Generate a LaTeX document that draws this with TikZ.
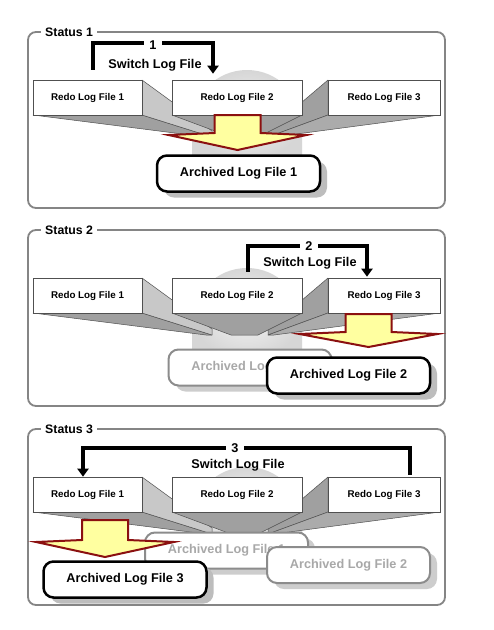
\documentclass[tikz,border=0pt]{standalone}
\usepackage{fontspec}
\setmainfont{Liberation Sans}
\usetikzlibrary{arrows.meta,shadows}
\definecolor{framegray}{HTML}{858585}
\definecolor{faceLight}{HTML}{C8C8C8}
\definecolor{faceDark}{HTML}{A0A0A0}
\definecolor{faceMid}{HTML}{ABABAB}
\definecolor{edgegray}{HTML}{505050}
\definecolor{arrowred}{HTML}{8B1010}
\definecolor{arrowyellow}{HTML}{FFFFA0}
\definecolor{fadetext}{HTML}{A8A8A8}
\definecolor{fadeedge}{HTML}{8C8C8C}
\definecolor{shadowgray}{HTML}{BDBDBD}
\definecolor{shadowlight}{HTML}{CDCDCD}
\tikzset{
  panelframe/.style={draw=framegray, line width=1.8pt, rounded corners=8pt},
  statuslbl/.style={fill=white, font=\bfseries\fontsize{12.3}{14}\selectfont, inner xsep=4pt, inner ysep=1pt, anchor=west},
  redobox/.style={draw=edgegray, line width=0.6pt, fill=white, font=\bfseries\fontsize{9.8}{11}\selectfont, minimum height=35pt, inner sep=0pt},
  faceL/.style={fill=faceLight, draw=edgegray, line width=0.5pt, line join=round},
  faceD/.style={fill=faceDark, draw=edgegray, line width=0.5pt, line join=round},
  faceM/.style={fill=faceMid, draw=edgegray, line width=0.5pt, line join=round},
  bulletshade/.style={inner color=gray!8, outer color=gray!32},
  switchline/.style={line width=3.8pt, -{Triangle[width=11pt,length=8pt]}},
  switchnum/.style={fill=white, inner xsep=5pt, inner ysep=0pt, font=\bfseries\fontsize{12.7}{14}\selectfont},
  switchtxt/.style={font=\bfseries\fontsize{12.7}{14}\selectfont, inner sep=1pt},
  archbase/.style={rounded corners=10pt, fill=white, minimum width=163pt, minimum height=36pt, font=\bfseries\fontsize{12.7}{14}\selectfont},
  archbox/.style={archbase, draw=black, line width=2.5pt, drop shadow={shadow xshift=7pt, shadow yshift=-6pt, fill=shadowgray, opacity=1}},
  archfaded/.style={archbase, draw=fadeedge, line width=2pt, text=fadetext, drop shadow={shadow xshift=7pt, shadow yshift=-6pt, fill=shadowlight, opacity=1}},
  blockarrow/.style={draw=arrowred, line width=2pt, fill=arrowyellow, line join=miter},
}
\newcommand\panelbase[1]{%
  \draw[panelframe] (28,32) rectangle (445,208);
  \node[statuslbl] (st#1) at (41,32) {Status #1};
  \shade[bulletshade] (192,160) -- (192,125) arc[start angle=180,end angle=360,radius=55] -- (302,160) -- cycle;
  \filldraw[faceD] (33,115) -- (142,115) -- (212,137) -- (206,137) -- cycle;
  \filldraw[faceL] (142,80) -- (142,115) -- (212,137) -- (212,131) -- cycle;
  \filldraw[faceD] (328,80) -- (328,115) -- (268,137) -- (268,131) -- cycle;
  \filldraw[faceM] (328,115) -- (440,115) -- (274,137) -- (268,137) -- cycle;
  \filldraw[faceD] (172,115) -- (302,115) -- (258,137) -- (231,137) -- cycle;
  \node[redobox, minimum width=109pt] (ra#1) at (87.5,97.5) {Redo Log File 1};
  \node[redobox, minimum width=130pt] (rb#1) at (237,97.5) {Redo Log File 2};
  \node[redobox, minimum width=112pt] (rc#1) at (384,97.5) {Redo Log File 3};
}
\newcommand\blockarrowat[4]{%
  \draw[blockarrow] (#1-23,#2) -- (#1-23,#3) -- (#1-69,#3+2) -- (#1,#4) -- (#1+69,#3+2) -- (#1+23,#3) -- (#1+23,#2) -- cycle;}
\begin{document}
\begin{tikzpicture}[x=1pt,y=-1pt]
\path[fill=white] (0,0) rectangle (494,630);
\useasboundingbox (0,0) rectangle (494,630);
% ---------- Status 1
\begin{scope}
  \panelbase{1}
  \draw[switchline] ([xshift=5.5pt,yshift=10pt]ra1.north) -- ++(0,-27) -| ([xshift=-24pt,yshift=6pt]rb1.north);
  \node[switchnum] (n1) at (153,45) {1};
  \node[switchtxt] (t1) at (155,65) {Switch Log File};
  \blockarrowat{237.5}{115}{133}{150}
  \node[archbox] (al1a) at (238.5,173.5) {Archived Log File 1};
\end{scope}
% ---------- Status 2
\begin{scope}[shift={(0,198)}]
  \panelbase{2}
  \draw[switchline] ([xshift=11pt,yshift=6pt]rb2.north) -- ++(0,-26) -| ([xshift=-17pt,yshift=1pt]rc2.north);
  \node[switchnum] (n2) at (309,48) {2};
  \node[switchtxt] (t2) at (310,65) {Switch Log File};
  \node[archfaded] (al1b) at (250,169.5) {Archived Log File 1};
  \blockarrowat{368.5}{116}{134}{149}
  \node[archbox] (al2b) at (348.5,177.5) {Archived Log File 2};
\end{scope}
% ---------- Status 3
\begin{scope}[shift={(0,397)}]
  \panelbase{3}
  \draw[switchline] ([xshift=26pt,yshift=2pt]rc3.north) -- ++(0,-27) -| ([xshift=-4.5pt]ra3.north);
  \node[switchnum] (n3) at (235,51) {3};
  \node[switchtxt] (t3) at (238,68) {Switch Log File};
  \node[archfaded] (al1c) at (226.5,153.5) {Archived Log File 1};
  \node[archfaded] (al2c) at (348.5,168) {Archived Log File 2};
  \blockarrowat{105}{123}{143}{160}
  \node[archbox] (al3c) at (125,182.5) {Archived Log File 3};
\end{scope}
\end{tikzpicture}
\end{document}
